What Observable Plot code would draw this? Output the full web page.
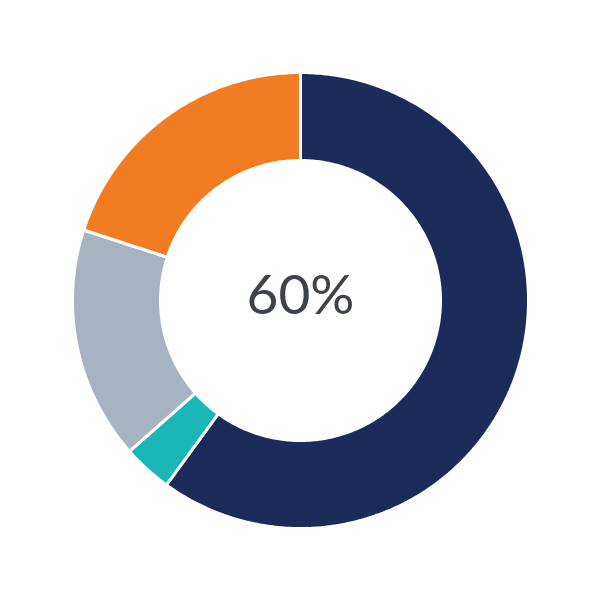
<!DOCTYPE html>
<html>
<head>
<meta charset="utf-8">
<script src="https://cdn.jsdelivr.net/npm/d3@7"></script>
<script src="https://cdn.jsdelivr.net/npm/@observablehq/plot@0.6"></script>
<style>
  html, body { margin: 0; padding: 0; background: #fff; }
  #chart { width: 600px; height: 600px; }
</style>
</head>
<body>
<div id="chart"></div>
<script>
const categories = ["A", "B", "C", "D"];
const values = [60, 3.5, 16.5, 20];
const colors = ["#1c2b5a", "#1ab6b6", "#a8b3c2", "#f27c22"];
const centerLabel = "60%";

const outerR = 228, innerR = 140;
const pie = d3.pie().sort(null).value(d => d.value)(categories.map((c, i) => ({category: c, value: values[i]})));

const pts = [];
for (const s of pie) {
  const n = Math.max(8, Math.ceil((s.endAngle - s.startAngle) * 80));
  for (let k = 0; k <= n; k++) {
    const a = s.startAngle + (s.endAngle - s.startAngle) * k / n;
    pts.push({category: s.data.category, x: outerR * Math.sin(a), y: outerR * Math.cos(a)});
  }
  for (let k = n; k >= 0; k--) {
    const a = s.startAngle + (s.endAngle - s.startAngle) * k / n;
    pts.push({category: s.data.category, x: innerR * Math.sin(a), y: innerR * Math.cos(a)});
  }
}

const chart = Plot.plot({
  width: 600,
  height: 600,
  margin: 0,
  x: {domain: [-300, 300], axis: null},
  y: {domain: [-300, 300], axis: null},
  color: {domain: categories, range: colors},
  marks: [
    Plot.line(pts, {x: "x", y: "y", z: "category", fill: "category", stroke: "white", strokeWidth: 3, strokeLinejoin: "miter", curve: "linear-closed"}),
    Plot.text([centerLabel], {x: () => 0, y: () => 0, text: d => d, fontSize: 55, fontFamily: "Lato", fontWeight: 400, fill: "#3d434a", dy: -4})
  ]
});
document.getElementById("chart").appendChild(chart);
</script>
</body>
</html>
